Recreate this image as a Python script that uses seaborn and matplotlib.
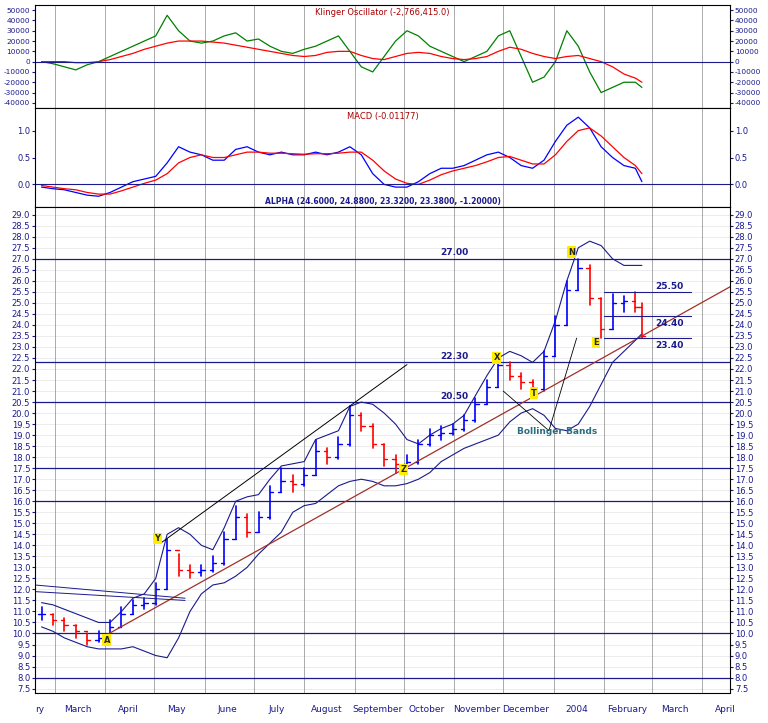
import matplotlib
matplotlib.use("Agg")
import matplotlib.pyplot as plt
import seaborn as sns
import pandas as pd
import numpy as np

sns.set_style("white")
plt.rcParams['font.family'] = ['DejaVu Sans']
plt.rcParams['axes.unicode_minus'] = False

dates = list(pd.date_range("2003-02-21", "2004-02-20", freq="7D")) + [pd.Timestamp("2004-02-24")]
close = [10.9,10.6,10.4,10.1,9.7,9.8,10.3,10.9,11.3,11.4,12.0,13.8,12.9,12.8,12.9,13.2,14.3,15.3,14.6,15.3,16.4,16.9,16.8,17.2,18.3,18.0,18.6,19.9,19.4,18.6,17.9,17.7,17.8,18.6,19.0,19.1,19.3,19.7,20.4,21.2,22.2,21.7,21.4,21.1,22.6,24.0,25.6,26.6,25.2,23.8,25.0,25.1,24.8,23.5]
high = [11.2,10.9,10.7,10.4,10.0,10.1,10.6,11.2,11.5,11.6,12.3,14.3,13.6,13.1,13.1,13.5,14.6,15.8,15.4,15.5,16.7,17.5,17.2,17.5,18.8,18.4,18.9,20.3,20.0,19.5,18.6,18.1,18.1,18.8,19.3,19.4,19.5,19.9,20.7,21.5,22.5,22.3,21.8,21.5,22.8,24.4,26.0,27.0,26.7,25.2,25.4,25.3,25.5,25.0]
low = [10.6,10.4,10.1,9.8,9.5,9.6,9.8,10.3,10.9,11.1,11.3,12.0,12.6,12.5,12.6,12.8,13.1,14.3,14.4,14.6,15.2,16.4,16.4,16.7,17.2,17.7,17.9,18.5,19.2,18.4,17.6,17.3,17.5,17.7,18.5,18.8,19.0,19.2,19.6,20.4,21.2,21.5,21.1,20.8,21.0,22.6,24.0,25.6,24.9,23.4,23.8,24.6,24.6,23.4]
bb_upper = [11.4,11.3,11.1,10.9,10.7,10.5,10.5,11.0,11.6,11.8,12.5,14.5,14.8,14.5,14.0,13.8,14.8,16.0,16.2,16.3,17.0,17.6,17.7,17.8,18.8,19.0,19.2,20.3,20.5,20.4,20.0,19.5,18.8,18.6,19.0,19.3,19.5,19.9,20.8,21.7,22.5,22.8,22.6,22.3,22.8,24.2,26.0,27.5,27.8,27.6,27.0,26.7,26.7,26.7]
bb_lower = [10.3,10.1,9.8,9.6,9.4,9.3,9.3,9.3,9.4,9.2,9.0,8.9,9.8,11.0,11.8,12.2,12.3,12.6,13.0,13.6,14.1,14.6,15.5,15.8,15.9,16.3,16.7,16.9,17.0,16.9,16.7,16.7,16.8,17.0,17.3,17.8,18.1,18.4,18.6,18.8,19.0,19.6,20.0,20.2,19.9,19.3,19.2,19.5,20.3,21.3,22.3,22.8,23.3,23.6]
klinger = [0,-2000,-5000,-8000,-3000,0,5000,10000,15000,20000,25000,45000,30000,20000,18000,20000,25000,28000,20000,22000,15000,10000,8000,12000,15000,20000,25000,10000,-5000,-10000,5000,20000,30000,25000,15000,10000,5000,0,5000,10000,25000,30000,5000,-20000,-15000,0,30000,15000,-10000,-30000,-25000,-20000,-20000,-25000]
klinger_sig = [0,0,0,-1000,-1000,0,2000,5000,8000,12000,15000,18000,20000,20000,20000,19000,18000,16000,14000,12000,10000,8000,6000,5000,6000,9000,10000,10000,6000,3000,2000,5000,8000,9000,8000,5000,3000,2000,3000,5000,10000,14000,12000,8000,5000,3000,5000,6000,3000,0,-5000,-12000,-16000,-20000]
macd = [-0.05,-0.08,-0.1,-0.15,-0.2,-0.22,-0.15,-0.05,0.05,0.1,0.15,0.4,0.7,0.6,0.55,0.45,0.45,0.65,0.7,0.6,0.55,0.6,0.55,0.55,0.6,0.55,0.6,0.7,0.55,0.2,0.0,-0.05,-0.05,0.05,0.2,0.3,0.3,0.35,0.45,0.55,0.6,0.5,0.35,0.3,0.45,0.8,1.1,1.25,1.05,0.7,0.5,0.35,0.3,0.05]
macd_sig = [-0.02,-0.05,-0.08,-0.1,-0.15,-0.18,-0.18,-0.12,-0.05,0.02,0.08,0.2,0.4,0.5,0.55,0.5,0.5,0.55,0.6,0.6,0.58,0.58,0.57,0.56,0.57,0.57,0.58,0.6,0.6,0.45,0.25,0.1,0.02,0.0,0.08,0.18,0.25,0.3,0.35,0.42,0.5,0.52,0.45,0.38,0.38,0.55,0.8,1.0,1.05,0.9,0.7,0.5,0.35,0.2]
hlevels = [27.0, 22.3, 20.5, 17.5, 16.0, 10.0, 8.0]
hlabels = {27.0: "27.00", 22.3: "22.30", 20.5: "20.50"}
markers = [("Y", "2003-05-03", 14.3), ("A", "2003-04-02", 9.7), ("Z", "2003-10-01", 17.45),
           ("X", "2003-11-27", 22.5), ("T", "2003-12-20", 20.9), ("N", "2004-01-12", 27.3), ("E", "2004-01-27", 23.2)]

df = pd.DataFrame(dict(date=dates, close=close, high=high, low=low, bbu=bb_upper, bbl=bb_lower,
                       kl=klinger, kls=klinger_sig, macd=macd, macds=macd_sig))
df["open"] = [close[0]] + close[:-1]

W, H = 768, 723
fig = plt.figure(figsize=(W/100, H/100), dpi=100)
L, R = 35/W, 695/W
ax1 = fig.add_axes([L, 1-108/H, R, 103/H])
ax2 = fig.add_axes([L, 1-207/H, R, 99/H])
ax3 = fig.add_axes([L, 1-693/H, R, 486/H])
xmin, xmax = pd.Timestamp("2003-02-17"), pd.Timestamp("2004-04-18")
navy = "#1a1a8c"
T = pd.Timestamp
months = pd.date_range("2003-03-01", "2004-04-01", freq="MS")

sns.lineplot(data=df, x="date", y="kl", ax=ax1, color="green", lw=0.9)
sns.lineplot(data=df, x="date", y="kls", ax=ax1, color="red", lw=0.9)
ax1.axhline(0, color=navy, lw=0.8)
ax1.set_ylim(-45000, 55000)
ax1.set_yticks(range(-40000, 50001, 10000))
ax1.text(0.5, 0.97, "Klinger Oscillator (-2,766,415.0)", transform=ax1.transAxes, fontsize=6, color="#aa0000", ha="center", va="top")

sns.lineplot(data=df, x="date", y="macd", ax=ax2, color="blue", lw=0.9)
sns.lineplot(data=df, x="date", y="macds", ax=ax2, color="red", lw=0.9)
ax2.axhline(0, color=navy, lw=0.8)
ax2.set_ylim(-0.42, 1.42)
ax2.set_yticks([0.0, 0.5, 1.0])
ax2.set_yticklabels(["0.0", "0.5", "1.0"])
ax2.text(0.5, 0.96, "MACD (-0.01177)", transform=ax2.transAxes, fontsize=6, color="#aa0000", ha="center", va="top")

yt = np.arange(7.5, 29.01, 0.5)
ax3.set_yticks(yt)
ax3.set_yticklabels([f"{v:.1f}" for v in yt])
for v in yt:
    ax3.axhline(v, color="#dddddd", lw=0.4, zorder=0)
for lv in hlevels:
    ax3.axhline(lv, color=navy, lw=0.9)
    if lv in hlabels:
        ax3.text(T("2003-11-01"), lv + 0.15, hlabels[lv], fontsize=6.5, color=navy, fontweight="bold", ha="center")
sns.lineplot(data=df, x="date", y="bbu", ax=ax3, color=navy, lw=0.8)
sns.lineplot(data=df, x="date", y="bbl", ax=ax3, color=navy, lw=0.8)
for _, r in df.iterrows():
    c = "blue" if r.close >= r.open else "red"
    ax3.plot([r.date, r.date], [r.low, r.high], color=c, lw=1.2)
    ax3.plot([r.date - pd.Timedelta(days=2), r.date], [r.open, r.open], color=c, lw=1)
    ax3.plot([r.date, r.date + pd.Timedelta(days=2)], [r.close, r.close], color=c, lw=1)
ax3.plot([T("2003-05-05"), T("2003-10-03")], [14.1, 22.2], color="black", lw=0.7)
ax3.plot([T("2003-04-01"), T("2004-04-27")], [9.9, 26.1], color="#a0302a", lw=0.9)
ax3.plot([T("2003-02-17"), T("2003-05-20")], [12.2, 11.6], color=navy, lw=0.7)
ax3.plot([T("2003-02-17"), T("2003-05-20")], [11.9, 11.5], color=navy, lw=0.7)
for lv, lab in [(25.5, "25.50"), (24.4, "24.40"), (23.4, "23.40")]:
    ax3.plot([T("2004-02-01"), T("2004-03-25")], [lv, lv], color=navy, lw=0.8)
    ax3.text(T("2004-03-03"), lv - (0.45 if lv < 25 else -0.12), lab, fontsize=6.5, color=navy, fontweight="bold")
ax3.text(T("2004-01-03"), 19.05, "Bollinger Bands", fontsize=6.5, color="#2a6f80", fontweight="bold", ha="center")
ax3.plot([T("2003-12-01"), T("2003-12-29"), T("2004-01-15")], [21.0, 19.2, 23.4], color="black", lw=0.6)
for lab, d, v in markers:
    ax3.text(T(d), v, lab, fontsize=6, fontweight="bold", ha="center", va="center",
             bbox=dict(boxstyle="square,pad=0.15", fc="#ffee00", ec="none"))
ax3.text(0.5, 1.003, "ALPHA (24.6000, 24.8800, 23.3200, 23.3800, -1.20000)", transform=ax3.transAxes,
         fontsize=5.5, color=navy, fontweight="bold", ha="center", va="bottom")
ax3.set_ylim(7.3, 29.35)

for ax, fs in ((ax1, 5.3), (ax2, 6), (ax3, 6)):
    ax.set_xlim(xmin, xmax)
    for m in months:
        ax.axvline(m, color="#888888", lw=0.5, zorder=0)
    ax.tick_params(labelsize=fs, colors=navy, length=2, pad=1.5, labelright=True, right=True, left=True)
    ax.set_xlabel(""); ax.set_ylabel("")
    for s in ax.spines.values():
        s.set_color("black"); s.set_linewidth(0.8)
    ax.set_xticks([])

mlabels = ["March", "April", "May", "June", "July", "August", "September", "October", "November",
           "December", "2004", "February", "March", "April"]
for m, lab in zip(months, mlabels):
    ax3.text(m + pd.Timedelta(days=14), -0.025, lab, transform=ax3.get_xaxis_transform(), fontsize=6.5,
             color=navy, ha="center", va="top")
ax3.text(T("2003-02-20"), -0.025, "ry", transform=ax3.get_xaxis_transform(), fontsize=6.5, color=navy, ha="center", va="top")
fig.savefig("out.png", dpi=100)
